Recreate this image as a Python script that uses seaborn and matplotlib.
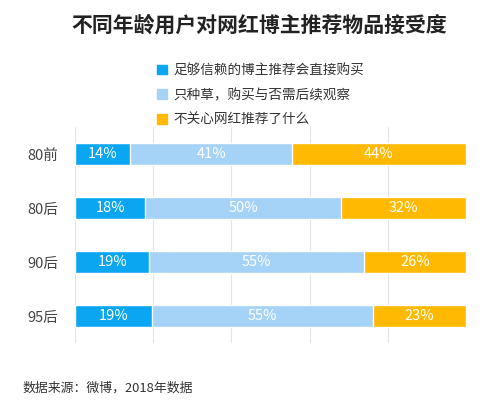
import matplotlib
matplotlib.use("Agg")
import matplotlib.pyplot as plt
from matplotlib.patches import Patch
import seaborn as sns
import numpy as np
import pandas as pd

# data
groups = ["80前", "80后", "90后", "95后"]
buy_direct = [14, 18, 19, 19]
wait_watch = [41, 50, 55, 55]
dont_care = [44, 32, 26, 23]
series_names = ["足够信赖的博主推荐会直接购买", "只种草，购买与否需后续观察", "不关心网红推荐了什么"]
colors = ["#0aa6f2", "#a5d2f7", "#ffb900"]

sns.set_theme(style="white")
plt.rcParams["font.family"] = ["Noto Sans CJK SC", "DejaVu Sans"]

vals = np.array([buy_direct, wait_watch, dont_care], dtype=float)
share = vals / vals.sum(axis=0) * 100  # each bar fills the full width
cum = np.cumsum(share, axis=0)

fig = plt.figure(figsize=(4.98, 4.05), dpi=100)
ax = fig.add_axes([75 / 498, 1 - 343 / 405, 391 / 498, 216 / 405])

# draw longest first so the shorter stacks sit on top
for i in [2, 1, 0]:
    df = pd.DataFrame({"group": groups, "val": cum[i]})
    sns.barplot(data=df, x="val", y="group", orient="h", color=colors[i],
                saturation=1, width=0.4, ax=ax, zorder=2)

for j in range(len(groups)):
    start = 0
    for i in range(3):
        ax.text(start + share[i, j] / 2, j, f"{int(vals[i, j])}%", color="white",
                ha="center", va="center", fontsize=10.5, zorder=3)
        start = cum[i, j]

ax.set_xlim(0, 100)
ax.set_ylim(3.5, -0.5)
ax.set_xticks(np.arange(0, 101, 20))
ax.set_xticklabels([])
ax.tick_params(axis="both", length=0)
ax.tick_params(axis="y", labelsize=10.5, labelcolor="#444444", pad=12)
ax.grid(axis="x", color="#e4e4e4", linewidth=0.8, zorder=0)
ax.set_xlabel("")
ax.set_ylabel("")
for s in ax.spines.values():
    s.set_visible(False)

handles = [Patch(color=c) for c in colors]
fig.legend(handles, series_names, loc="upper left", bbox_to_anchor=(145 / 498, 1 - 51 / 405),
           frameon=False, fontsize=9.8, labelspacing=0.78, handlelength=0.75, handleheight=0.75,
           handletextpad=0.45, labelcolor="#333333")

fig.text(259 / 498, 1 - 25 / 405, "不同年龄用户对网红博主推荐物品接受度", ha="center", va="center",
         fontsize=15, fontweight="bold", color="#222222")
fig.text(22 / 498, 1 - 388 / 405, "数据来源：微博，2018年数据", ha="left", va="center",
         fontsize=9.3, color="#333333")

fig.savefig("out.png", dpi=100)
